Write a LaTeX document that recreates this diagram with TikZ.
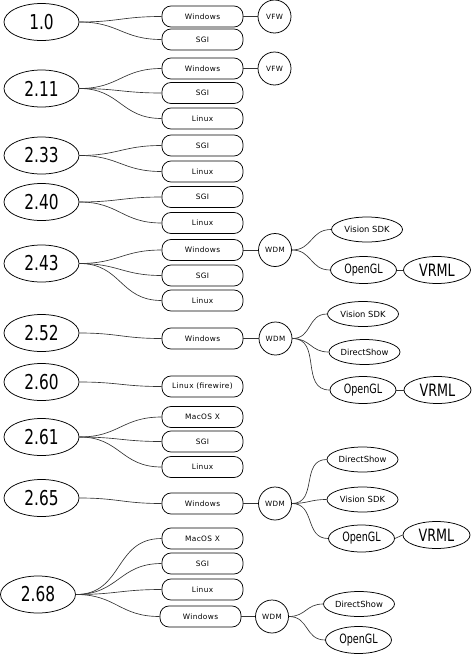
\documentclass[tikz,border=0pt]{standalone}
\usepackage{fontspec}
\setmainfont{DejaVu Sans}
\newfontfamily\narrowfont[FakeStretch=0.75]{DejaVu Sans}
\newfontfamily\labelfont[LetterSpace=5]{DejaVu Sans}
\usetikzlibrary{shapes.geometric}

\begin{document}
\begin{tikzpicture}[
    x=1pt, y=-1pt,
    version/.style={draw, ellipse, line width=0.75pt, minimum width=75pt, minimum height=37pt, inner sep=0pt, font=\narrowfont\fontsize{20.5}{21}\selectfont},
    platform/.style={draw, rounded corners=9pt, line width=0.75pt, minimum width=81pt, minimum height=21pt, inner sep=0pt, font=\labelfont\fontsize{7.4}{8}\selectfont},
    driver/.style={draw, circle, line width=0.75pt, minimum size=33pt, inner sep=0pt, font=\labelfont\fontsize{7.2}{8}\selectfont},
    lib/.style={draw, ellipse, line width=0.75pt, minimum width=71pt, minimum height=25pt, inner sep=0pt, font=\fontsize{8.4}{9}\selectfont},
    render/.style={draw, ellipse, line width=0.75pt, minimum width=66pt, minimum height=27pt, inner sep=0pt, font=\narrowfont\fontsize{12.8}{13}\selectfont},
    scene/.style={render, minimum width=67pt, font=\narrowfont\fontsize{17}{17}\selectfont},
    link/.style={draw, line width=0.65pt, black!80},
    fan/.style={out=0, in=180, looseness=1.2},
]
\useasboundingbox (0,0) rectangle (474,656);

% 1.0
\node[version] (v10) at (41.5,22) {1.0};
\node[platform] (win10) at (202.5,16.5) {Windows};
\node[platform] (sgi10) at (202.5,39.5) {SGI};
\node[driver] (vfw10) at (274.5,16.5) {VFW};

% 2.11
\node[version] (v211) at (41.5,88.5) {2.11};
\node[platform] (win211) at (202.5,68.5) {Windows};
\node[platform] (sgi211) at (202.5,93) {SGI};
\node[platform] (lin211) at (202.5,118.5) {Linux};
\node[driver] (vfw211) at (274.5,68.5) {VFW};

% 2.33
\node[version] (v233) at (41.5,155.5) {2.33};
\node[platform] (sgi233) at (202.5,145.5) {SGI};
\node[platform] (lin233) at (202.5,171.5) {Linux};

% 2.40
\node[version] (v240) at (41.5,202) {2.40};
\node[platform] (sgi240) at (202.5,197) {SGI};
\node[platform] (lin240) at (202.5,223) {Linux};

% 2.43
\node[version] (v243) at (41.5,263.5) {2.43};
\node[platform] (win243) at (202.5,250) {Windows};
\node[platform] (sgi243) at (202.5,275.5) {SGI};
\node[platform] (lin243) at (202.5,300.5) {Linux};
\node[driver] (wdm243) at (275,250) {WDM};
\node[lib] (vis243) at (367,229.5) {Vision SDK};
\node[render] (gl243) at (363.5,270) {OpenGL};
\node[scene] (vrml243) at (437,270) {VRML};

% 2.52
\node[version] (v252) at (41.5,333) {2.52};
\node[platform] (win252) at (202.5,338.5) {Windows};
\node[driver] (wdm252) at (275.5,338.5) {WDM};
\node[lib] (vis252) at (363,314) {Vision SDK};
\node[lib] (ds252) at (364.5,352) {DirectShow};
\node[render] (gl252) at (363,390) {OpenGL};
\node[scene] (vrml252) at (437.5,390) {VRML};

% 2.60
\node[version] (v260) at (41.5,382) {2.60};
\node[platform] (fw260) at (202.5,386.5) {Linux (firewire)};

% 2.61
\node[version] (v261) at (41.5,437) {2.61};
\node[platform] (mac261) at (202.5,417) {MacOS X};
\node[platform] (sgi261) at (202.5,441.5) {SGI};
\node[platform] (lin261) at (202.5,467) {Linux};

% 2.65
\node[version] (v265) at (41.5,498) {2.65};
\node[platform] (win265) at (202.5,503.5) {Windows};
\node[driver] (wdm265) at (275,503.5) {WDM};
\node[lib] (ds265) at (362.5,459.5) {DirectShow};
\node[lib] (vis265) at (362.5,499.5) {Vision SDK};
\node[render] (gl265) at (361.5,538.5) {OpenGL};
\node[scene] (vrml265) at (436.5,535) {VRML};

% 2.68
\node[version] (v268) at (38,594.5) {2.68};
\node[platform] (mac268) at (202.5,538.5) {MacOS X};
\node[platform] (sgi268) at (202.5,563.5) {SGI};
\node[platform] (lin268) at (202.5,589.5) {Linux};
\node[platform] (win268) at (200.5,616.5) {Windows};
\node[driver] (wdm268) at (272,616.5) {WDM};
\node[lib] (ds268) at (359,604) {DirectShow};
\node[render] (gl268) at (358.5,640) {OpenGL};

% Version -> platform
\draw[link] (v10.east) to[fan] (win10.west);
\draw[link] (v10.east) to[fan] (sgi10.west);
\draw[link] (v211.east) to[fan] (win211.west);
\draw[link] (v211.east) to[fan] (sgi211.west);
\draw[link] (v211.east) to[fan] (lin211.west);
\draw[link] (v233.east) to[fan] (sgi233.west);
\draw[link] (v233.east) to[fan] (lin233.west);
\draw[link] (v240.east) to[fan] (sgi240.west);
\draw[link] (v240.east) to[fan] (lin240.west);
\draw[link] (v243.east) to[fan] (win243.west);
\draw[link] (v243.east) to[fan] (sgi243.west);
\draw[link] (v243.east) to[fan] (lin243.west);
\draw[link] (v252.east) to[fan] (win252.west);
\draw[link] (v260.east) to[fan] (fw260.west);
\draw[link] (v261.east) to[fan] (mac261.west);
\draw[link] (v261.east) to[fan] (sgi261.west);
\draw[link] (v261.east) to[fan] (lin261.west);
\draw[link] (v265.east) to[fan] (win265.west);
\draw[link] (v268.east) to[fan] (mac268.west);
\draw[link] (v268.east) to[fan] (sgi268.west);
\draw[link] (v268.east) to[fan] (lin268.west);
\draw[link] (v268.east) to[fan] (win268.west);

% Windows -> driver
\draw[link] (win10) -- (vfw10);
\draw[link] (win211) -- (vfw211);
\draw[link] (win243) -- (wdm243);
\draw[link] (win252) -- (wdm252);
\draw[link] (win265) -- (wdm265);
\draw[link] (win268) -- (wdm268);

% WDM -> libraries
\draw[link] (wdm243.east) to[fan] (vis243.west);
\draw[link] (wdm243.east) to[fan] (gl243.west);
\draw[link] (wdm252.east) to[fan] (vis252.west);
\draw[link] (wdm252.east) to[fan] (ds252.west);
\draw[link] (wdm252.east) to[fan] (gl252.west);
\draw[link] (wdm265.east) to[fan] (ds265.west);
\draw[link] (wdm265.east) to[fan] (vis265.west);
\draw[link] (wdm265.east) to[fan] (gl265.west);
\draw[link] (wdm268.east) to[fan] (ds268.west);
\draw[link] (wdm268.east) to[fan] (gl268.west);

% OpenGL -> VRML
\draw[link] (gl243.east) to[fan] (vrml243.west);
\draw[link] (gl252.east) to[fan] (vrml252.west);
\draw[link] (gl265.east) to[fan] (vrml265.west);
\end{tikzpicture}
\end{document}
